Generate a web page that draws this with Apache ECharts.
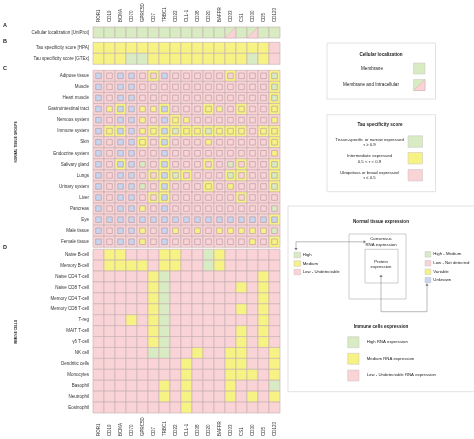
<!DOCTYPE html>
<html>
<head>
<meta charset="utf-8">
<script src="https://cdn.jsdelivr.net/npm/echarts@6/dist/echarts.min.js"></script>
<style>
  html, body { margin: 0; padding: 0; background: #fff; }
  #chart { width: 474px; height: 439px; }
</style>
</head>
<body>
<div id="chart"></div>
<script>
// columns
const genes = ["ROR1", "CD19", "BCMA", "CD70", "GPRC5D", "CD7", "TRBC1", "CD22", "CLL-1",
  "CD38", "CD20", "BAFFR", "CD33", "CS1", "CD30", "CD5", "CD123"];

// A: M = membrane, I = membrane and intracellular
const locRows = ["Cellular localization [UniProt]"];
const localization = ["MMMMMMMMMMMMIMIMM"];

// B: G = tissue-specific, Y = intermediate, P = ubiquitous
const tauRows = ["Tau specificity score [HPA]", "Tau specificity score [GTEx]"];
const tauScores = ["YYYYYYYYYYYYYYYYP", "YYYGGYYYYYYYYYGYP"];

// C: outer = consensus RNA (P/Y/G), inner = protein (p low, y variable, g high, b unknown)
const tissues = ["Adipose tissue", "Muscle", "Heart muscle", "Gastrointestinal tract", "Nervous system",
  "Immune system", "Skin", "Endocrine system", "Salivary gland", "Lungs", "Urinary system", "Liver",
  "Pancreas", "Eye", "Male tissue", "Female tissue"];
const tissueRna = [
  "PPPPPYPPPPPPYPPPY",
  "PPPPPPPPPPPPPPPPY",
  "PPPPPPPPPPPPPPPPY",
  "PPYPPPYPPPYPPYPPY",
  "PPPPPPPYPPPPPPPPP",
  "PYYPPYYYYYYYYYPYY",
  "PPPPYPYPPPPPPPPPY",
  "PPPPPPPPPPPPPPPPP",
  "PPYPPPYPPPYPPYPPY",
  "PPPPPYYYYPPPYYPPY",
  "PPPPPPYPPPYPPPPPY",
  "PPPPPYYPPPPPPYPPP",
  "PPPPPPPPPPPPPPPPP",
  "PPPPPPPPPPPPPPPPY",
  "PPPPPPPPPPPPPPPPP",
  "PPPPPPPPPPPPPPPPY"
];
const tissueProtein = [
  "bpbbppbpppppppppg",
  "bpbbppppppppppppg",
  "bpbbppppppppppppg",
  "bybbyybpppyypyppy",
  "bpbbypbyypppppppy",
  "bybbyybgyygyyypyy",
  "bpbbypbpppypppppy",
  "bpbbppbpppppppppy",
  "bpbbgpbpppppgpppg",
  "bpbbppbgppppgpppg",
  "bpbbgpbpppypypppg",
  "bpbbppbpppppppppp",
  "bpbbypbpppppppppg",
  "bbbbbbbbbbbbbbbbb",
  "bpbbypbypypyyyyyg",
  "bpbbypbpppppppypy"
];

// D: immune cell RNA (P low, Y medium, G high)
const immuneCells = ["Naive B-cell", "Memory B-cell", "Naive CD4 T-cell", "Naive CD8 T-cell",
  "Memory CD4 T-cell", "Memory CD8 T-cell", "T-reg", "MAIT T-cell", "γδ T-cell", "NK cell",
  "Dendritic cells", "Monocytes", "Basophil", "Neutrophil", "Eosinophil"];
const immuneRna = [
  "PYYPPPYYPPGYPPPPP",
  "PYYYYPYYPPGYPPPPP",
  "PPPPPYGPPPPPPPPYP",
  "PPPPPYGPPPPPPYPYP",
  "PPPPPYGPPPPPPPPYP",
  "PPPPPYGPPPPPPYPYP",
  "PPPYPYGPPPPPPPPYP",
  "PPPPPYGPPPPPPYPYP",
  "PPPPPYGPPPPPPYPYP",
  "PPPPPGGPPYPPYYPPY",
  "PPPPPPPPYPPPYYPPY",
  "PPPPPPPPYPPPYYYPY",
  "PPPPPPYPYPPPYPPPG",
  "PPPPPPYPYPPPYPYPY",
  "PPPPPPPPYPPPPPPPP"
];

const FONT = '"Liberation Sans", Arial, sans-serif';
const PINK = "#f9d3d6", YELLOW = "#f7f284", GREEN = "#d8ebc2", BLUE = "#c6d5f0";
const LINE = "#c4aeb2";
const CODES = "PYGMIpygb";
const COLORS = { P: PINK, Y: YELLOW, G: GREEN, M: GREEN, I: GREEN, p: PINK, y: YELLOW, g: GREEN, b: BLUE };

function toCells(rows, inner) {
  const out = [];
  rows.forEach((row, r) => {
    row.split("").forEach((ch, c) => {
      out.push([c, r, CODES.indexOf(ch), inner ? CODES.indexOf(inner[r][c]) : -1]);
    });
  });
  return out;
}

function renderCell(params, api) {
  const c = api.coord([api.value(0), api.value(1)]);
  const s = api.size([1, 1]);
  const x = c[0] - s[0] / 2, y = c[1] - s[1] / 2, w = s[0], h = s[1];
  const code = CODES[api.value(2)];
  const children = [{
    type: "rect", shape: { x, y, width: w, height: h },
    style: { fill: COLORS[code], stroke: LINE, lineWidth: 0.6 }
  }];
  if (code === "I") {
    children.push({
      type: "polygon", shape: { points: [[x, y + h], [x + w, y + h], [x + w, y]] },
      style: { fill: PINK, stroke: "#d9a9ae", lineWidth: 0.5 }
    });
  }
  const inner = api.value(3);
  if (inner >= 0) {
    const k = 5.6;
    children.push({
      type: "rect", shape: { x: c[0] - k / 2, y: c[1] - k / 2, width: k, height: k },
      style: { fill: COLORS[CODES[inner]], stroke: "#b0979c", lineWidth: 0.6 }
    });
  }
  return { type: "group", children };
}

const labelStyle = { color: "#333", fontSize: 4.5, fontFamily: FONT };

function xAxisFor(gridIndex, margin) {
  return {
    type: "category", gridIndex, data: genes, position: "bottom",
    axisLine: { show: false }, axisTick: { show: false }, splitLine: { show: false },
    axisLabel: margin ? Object.assign({ show: true, rotate: 90, interval: 0, align: "left", margin }, labelStyle)
                      : { show: false }
  };
}
function yAxisFor(gridIndex, rows) {
  return {
    type: "category", gridIndex, data: rows, inverse: true,
    axisLine: { show: false }, axisTick: { show: false }, splitLine: { show: false },
    axisLabel: Object.assign({ interval: 0, margin: 4 }, labelStyle)
  };
}

// legend helpers (decoration only)
function box(x, y, w, h) {
  return { type: "rect", z: 1, shape: { x, y, width: w, height: h },
    style: { fill: "#fff", stroke: "#dadada", lineWidth: 0.8 } };
}
function txt(text, x, y, opts) {
  const o = Object.assign({ size: 4.6, bold: false, align: "center", color: "#222" }, opts || {});
  return {
    type: "text", z: 3, x, y, rotation: o.rotation || 0,
    style: {
      text, fill: o.color, fontSize: o.size, fontFamily: FONT,
      fontWeight: o.bold ? "bold" : "normal",
      align: o.align, textAlign: o.align, verticalAlign: "middle", textVerticalAlign: "middle"
    }
  };
}
function swatch(x, y, w, h, color) {
  return { type: "rect", z: 2, shape: { x, y, width: w, height: h },
    style: { fill: color, stroke: "#c9c0c0", lineWidth: 0.5 } };
}
function line(points) {
  return { type: "polyline", z: 2, shape: { points }, style: { stroke: "#777", lineWidth: 0.5, fill: null } };
}
function arrowHead(x, y, dir) {
  const a = 1.6;
  const pts = dir === "right" ? [[x, y], [x - 2.4, y - a], [x - 2.4, y + a]]
    : dir === "up" ? [[x, y], [x - a, y + 2.4], [x + a, y + 2.4]]
    : [[x, y], [x - a, y - 2.4], [x + a, y - 2.4]];
  return { type: "polygon", z: 2, shape: { points: pts }, style: { fill: "#777" } };
}

const graphics = [
  txt("A", 5, 25, { bold: true, size: 5.5 }),
  txt("B", 5, 41, { bold: true, size: 5.5 }),
  txt("C", 5, 68.5, { bold: true, size: 5.5 }),
  txt("D", 5, 247, { bold: true, size: 5.5 }),
  txt("NORMAL TISSUE GROUPS", 16, 142, { bold: true, size: 3.2, rotation: Math.PI / 2 }),
  txt("IMMUNE CELLS", 16, 332, { bold: true, size: 3.2, rotation: Math.PI / 2 }),

  // cellular localization legend
  box(327, 43, 108.5, 56),
  txt("Cellular localization", 381, 54.3, { bold: true }),
  txt("Membrane", 372, 68.3),
  swatch(413.5, 63, 11.5, 11, GREEN),
  txt("Membrane and Intracellular", 371, 85),
  swatch(413.5, 79.5, 11.5, 11, GREEN),
  { type: "polygon", z: 2, shape: { points: [[413.5, 90.5], [425, 90.5], [425, 79.5]] },
    style: { fill: PINK, stroke: "#d9a9ae", lineWidth: 0.5 } },

  // tau legend
  box(327, 114.7, 108.5, 77),
  txt("Tau specificity score", 380, 124.3, { bold: true }),
  txt("Tissue-specific or narrow expressed", 369.5, 139.5, { size: 4.3 }),
  txt("τ ≥ 0.9", 369.5, 145, { size: 4.3 }),
  swatch(408, 135.8, 14.5, 11.5, GREEN),
  txt("Intermediate expressed", 369.5, 156, { size: 4.3 }),
  txt("0.5 < τ < 0.9", 369.5, 161.5, { size: 4.3 }),
  swatch(408, 152.5, 14.5, 11.5, YELLOW),
  txt("Ubiquitous or broad expressed", 369.5, 172.5, { size: 4.3 }),
  txt("τ ≤ 0.5", 369.5, 178, { size: 4.3 }),
  swatch(408, 169.5, 14.5, 11.5, PINK),

  // normal tissue + immune cell legend
  box(288, 206, 200, 185.7),
  txt("Normal tissue expression", 381, 221.7, { bold: true }),
  { type: "rect", z: 2, shape: { x: 349, y: 234, width: 57, height: 65 }, style: { fill: "none", stroke: "#999", lineWidth: 0.5 } },
  { type: "rect", z: 2, shape: { x: 365, y: 249.3, width: 33, height: 33.7 }, style: { fill: "none", stroke: "#999", lineWidth: 0.5 } },
  txt("Consensus", 381, 239, { size: 4.3 }),
  txt("RNA expression", 381, 244.5, { size: 4.3 }),
  txt("Protein", 381, 261.5, { size: 4.3 }),
  txt("expression", 381, 267.3, { size: 4.3 }),
  line([[296, 249], [296, 241.8], [364, 241.8]]),
  arrowHead(366, 241.8, "right"),
  arrowHead(296, 250.5, "down"),
  line([[381, 276], [381, 311.7], [427, 311.7], [427, 285]]),
  arrowHead(427, 283.3, "up"),
  arrowHead(381, 274.5, "up"),
  swatch(294, 252.3, 6.7, 5.5, GREEN), txt("High", 302.7, 255, { align: "left", size: 4.3 }),
  swatch(294, 260.8, 6.7, 5.5, YELLOW), txt("Medium", 302.7, 263.5, { align: "left", size: 4.3 }),
  swatch(294, 269.3, 6.7, 5.5, PINK), txt("Low - Undetectable", 302.7, 272, { align: "left", size: 4.3 }),
  swatch(425, 251.6, 5.8, 5.5, GREEN), txt("High - Medium", 433.3, 254.3, { align: "left", size: 4.3 }),
  swatch(425, 260.5, 5.8, 5.5, PINK), txt("Low - Not detected", 433.3, 263.2, { align: "left", size: 4.3 }),
  swatch(425, 269, 5.8, 5.5, YELLOW), txt("Variable", 433.3, 271.7, { align: "left", size: 4.3 }),
  swatch(425, 277.3, 5.8, 5.5, BLUE), txt("Unknown", 433.3, 280, { align: "left", size: 4.3 }),

  txt("Immune cells expression", 381, 327, { bold: true }),
  swatch(347.7, 336.7, 11.3, 11, GREEN), txt("High RNA expression", 366.7, 342, { align: "left", size: 4.3 }),
  swatch(347.7, 353.3, 11.3, 11, YELLOW), txt("Medium RNA expression", 366.7, 358.7, { align: "left", size: 4.3 }),
  swatch(347.7, 370, 11.3, 11, PINK), txt("Low - Undetectable RNA expression", 366.7, 375.3, { align: "left", size: 4.3 })
];

const chart = echarts.init(document.getElementById("chart"), null, { renderer: "canvas" });
chart.setOption({
  animation: false,
  backgroundColor: "#fff",
  grid: [
    { left: 93, top: 27, width: 187, height: 11 },
    { left: 93, top: 42.3, width: 187, height: 22 },
    { left: 93, top: 70.3, width: 187, height: 177 },
    { left: 93, top: 249.2, width: 187, height: 164 },
    // holder for the top gene labels
    { left: 93, top: 0, width: 187, height: 17 }
  ],
  xAxis: [
    xAxisFor(0),
    xAxisFor(1),
    xAxisFor(2),
    xAxisFor(3, 23),
    xAxisFor(4, 5)
  ],
  yAxis: [
    yAxisFor(0, locRows),
    yAxisFor(1, tauRows),
    yAxisFor(2, tissues),
    yAxisFor(3, immuneCells),
    { type: "category", gridIndex: 4, data: [""], show: false }
  ],
  series: [
    { type: "custom", xAxisIndex: 0, yAxisIndex: 0, renderItem: renderCell, data: toCells(localization), silent: true },
    { type: "custom", xAxisIndex: 1, yAxisIndex: 1, renderItem: renderCell, data: toCells(tauScores), silent: true },
    { type: "custom", xAxisIndex: 2, yAxisIndex: 2, renderItem: renderCell, data: toCells(tissueRna, tissueProtein), silent: true },
    { type: "custom", xAxisIndex: 3, yAxisIndex: 3, renderItem: renderCell, data: toCells(immuneRna), silent: true }
  ],
  graphic: graphics
});
</script>
</body>
</html>
